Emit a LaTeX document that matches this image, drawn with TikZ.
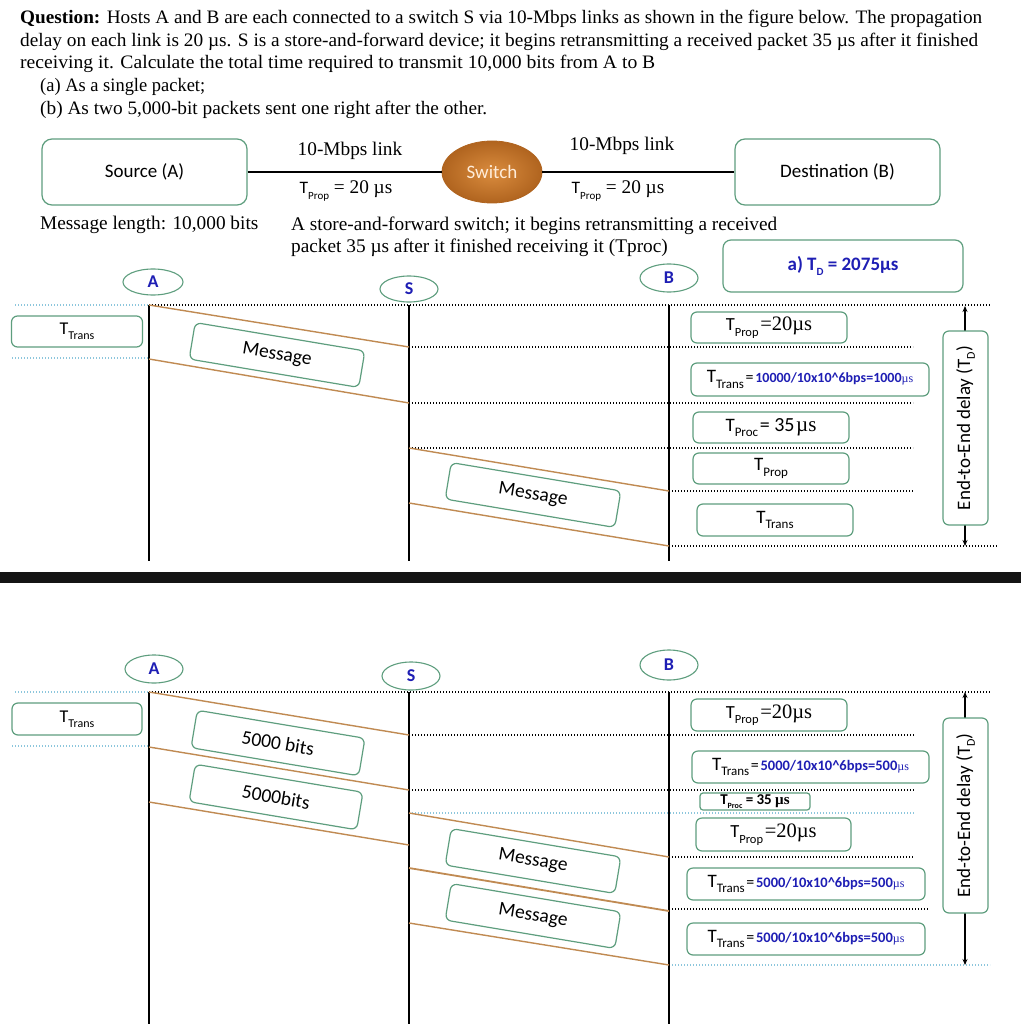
\documentclass[tikz,border=0pt]{standalone}
\usepackage{fontspec}
\setmainfont{Liberation Serif}
\setsansfont{Carlito}
\usepackage{graphicx}
\usetikzlibrary{shapes.geometric,arrows.meta}
\definecolor{gb}{HTML}{5E9E7E}
\definecolor{og}{HTML}{C08A52}
\definecolor{lb}{HTML}{8CC6DC}
\definecolor{bt}{HTML}{1E1EB4}
\definecolor{swin}{HTML}{DA8C3E}
\definecolor{swout}{HTML}{B0641F}
\newcommand\Tx[3]{{\sffamily\fontsize{#2}{#2}\selectfont T\raisebox{-0.3em}{\fontsize{#3}{#3}\selectfont #1}}}
\newcommand\fs[1]{\fontsize{#1}{#1}\selectfont}
\newcommand\qline[2]{\resizebox{#1pt}{\height}{#2}}
\tikzset{
  gbox/.style={draw=gb, line width=1.2pt, rounded corners=6pt, fill=white, inner sep=0pt},
  ell/.style={ellipse, draw=gb, line width=1.1pt, fill=white, inner sep=0pt, font=\sffamily\bfseries\fs{18}, text=bt},
  tl/.style={line width=1.6pt, black},
  dl/.style={line width=1.4pt, dash pattern=on 1.4pt off 1.6pt},
  ldl/.style={line width=1.4pt, lb, dash pattern=on 1.4pt off 1.6pt},
  ol/.style={og, line width=1.4pt},
  msg/.style={gbox, minimum width=172pt, minimum height=37pt, rotate=-9.5, font=\sffamily\fs{19.5}},
  qt/.style={anchor=base west, inner sep=0pt, font=\fs{19}},
  lab/.style={inner sep=0pt},
  e2e/.style={gbox, rotate=90, minimum width=194pt, minimum height=45pt, font=\sffamily\fs{19}},
  darr/.style={line width=1.4pt, {Stealth[length=6pt,width=5pt]}-{Stealth[length=6pt,width=5pt]}}
}
\begin{document}
\begin{tikzpicture}[x=1pt,y=-1pt]
\useasboundingbox (0,0) rectangle (1021,1024);
\fill[white] (0,0) rectangle (1021,1024);
% question
\node[qt] (q1) at (20,24) {\qline{962}{\textbf{Question:} Hosts A and B are each connected to a switch S via 10-Mbps links as shown in the figure below. The propagation}};
\node[qt] (q2) at (20,47) {\qline{958}{delay on each link is 20 µs. S is a store-and-forward device; it begins retransmitting a received packet 35 µs after it finished}};
\node[qt] (q3) at (20,69) {\qline{635}{receiving it. Calculate the total time required to transmit 10,000 bits from A to B}};
\node[qt] (q4) at (40,92) {\qline{165}{(a) As a single packet;}};
\node[qt] (q5) at (40,115) {\qline{447}{(b) As two 5,000-bit packets sent one right after the other.}};
% network
\node[gbox, rounded corners=10pt, minimum width=205pt, minimum height=66pt, font=\sffamily\fs{19}] (src) at (144.5,172) {Source (A)};
\node[gbox, rounded corners=10pt, minimum width=205pt, minimum height=66pt, font=\sffamily\fs{19}] (dst) at (837.5,172) {Destination (B)};
\node[ellipse, draw=swout, line width=0.8pt, inner color=swin, outer color=swout, minimum width=100pt, minimum height=62pt, inner sep=0pt, text=orange!15!white, font=\sffamily\fs{19}] (sw) at (492,172) {Switch};
\draw[line width=1.5pt] (src.east) -- (sw.west);
\draw[line width=1.5pt] (sw.east) -- (dst.west);
\node[lab, font=\fs{19.3}] (l1) at (350,151) {10-Mbps link};
\node[lab, font=\fs{19.3}] (l2) at (622,146) {10-Mbps link};
\node[lab, font=\fs{19.3}] (p1) at (346,191) {\Tx{Prop}{17.5}{11} = 20 µs};
\node[lab, font=\fs{19.3}] (p2) at (618,191) {\Tx{Prop}{17.5}{11} = 20 µs};
\node[lab, anchor=west, font=\fs{19.3}] (ml) at (40,225) {Message length: 10,000 bits};
\node[lab, anchor=base west, font=\fs{19.3}] (sf1) at (291,230) {A store-and-forward switch; it begins retransmitting a received};
\node[lab, anchor=base west, font=\fs{19.3}] (sf2) at (291,252) {packet 35 µs after it finished receiving it (Tproc)};
\node[gbox, rounded corners=8pt, minimum width=240pt, minimum height=52pt, text=bt, font=\sffamily\bfseries\fs{19}] (ans) at (843,266) {a) T\raisebox{-0.25em}{\fs{11}D} = 2075µs};
% ===== top timeline =====
\node[ell, minimum width=60pt, minimum height=26pt] (eA) at (153,282) {A};
\node[ell, minimum width=58pt, minimum height=26pt] (eS) at (409,289) {S};
\node[ell, minimum width=58pt, minimum height=28pt] (eB) at (669,278) {B};
\draw[ldl] (15,305) -- (149,305);
\draw[dl] (149,305) -- (990,305);
\draw[ldl] (12,358) -- (149,358);
\draw[dl] (409,347) -- (913,347);
\draw[dl] (409,403) -- (913,403);
\draw[dl] (409,448) -- (913,448);
\draw[dl] (669,491) -- (913,491);
\draw[dl] (669,546) -- (998,546);
\coordinate (aT) at (149,305); \coordinate (aB) at (149,561);
\coordinate (sT) at (409,305); \coordinate (sB) at (409,561);
\coordinate (bT) at (669,305); \coordinate (bB) at (669,561);
\draw[tl] (aT) -- (aB);
\draw[tl] (sT) -- (sB);
\draw[tl] (bT) -- (bB);
\draw[ol] (149,305) -- (409,347);
\draw[ol] (149,359) -- (409,403);
\draw[ol] (409,448) -- (669,491);
\draw[ol] (409,503) -- (669,546);
\node[gbox, minimum width=131pt, minimum height=31pt] (tt1) at (77,331.5) {\Tx{Trans}{18}{12}};
\node[msg] (m1) at (277,355) {Message};
\node[msg] (m2) at (533,495) {Message};
\node[gbox, minimum width=156pt, minimum height=31pt] (tp1) at (769,327.5) {\Tx{Prop}{18.5}{12.5}\,{\fs{20.5}=20µs}};
\node[gbox, minimum width=238pt, minimum height=33pt] (ttr1) at (810,379.5) {\Tx{Trans}{19}{13}\,{\sffamily\fs{16}=}\,{\color{bt}\sffamily\bfseries\fs{14}10000/10x10\textasciicircum 6bps=1000}{\color{bt}\fs{12}µs}};
\node[gbox, minimum width=156pt, minimum height=31pt] (tpr1) at (771,427.5) {\Tx{Proc}{19}{13}\,{\sffamily\fs{20}= 35}\,{\fs{21}µs}};
\node[gbox, minimum width=156pt, minimum height=31pt] (tp2) at (771,468.5) {\Tx{Prop}{19}{13}};
\node[gbox, minimum width=156pt, minimum height=32pt] (tt2) at (775,520) {\Tx{Trans}{19}{13}};
\coordinate (e1t) at (965,306); \coordinate (e1b) at (965,546);
\draw[darr] (e1t) -- (e1b);
\node[e2e] (ee1) at (965.5,428) {End-to-End delay (T\raisebox{-0.25em}{\fs{12}D})};
% separator
\fill[black!92] (0,572) rectangle (1021,583);
% ===== bottom timeline =====
\node[ell, minimum width=58pt, minimum height=28pt] (fA) at (154,669) {A};
\node[ell, minimum width=58pt, minimum height=28pt] (fS) at (411,676) {S};
\node[ell, minimum width=58pt, minimum height=30pt] (fB) at (669,665) {B};
\draw[ldl] (15,692) -- (149,692);
\draw[dl] (149,692) -- (990,692);
\draw[ldl] (12,746) -- (149,746);
\draw[dl] (409,735) -- (914,735);
\draw[dl] (409,790) -- (914,790);
\draw[ldl] (409,813) -- (914,813);
\draw[dl] (669,857) -- (914,857);
\draw[dl] (669,909) -- (929,909);
\draw[ldl] (669,965) -- (990,965);
\coordinate (cT) at (149,692); \coordinate (cB) at (149,1024);
\coordinate (dT) at (409,692); \coordinate (dB) at (409,1024);
\coordinate (gT) at (669,692); \coordinate (gB) at (669,1024);
\draw[tl] (cT) -- (cB);
\draw[tl] (dT) -- (dB);
\draw[tl] (gT) -- (gB);
\draw[ol] (149,692) -- (409,735);
\draw[ol] (149,747) -- (409,790);
\draw[ol] (149,802) -- (409,845);
\draw[ol] (409,813) -- (669,857);
\draw[ol, line width=1.8pt] (409,868) -- (669,911);
\draw[ol] (409,923) -- (669,965);
\node[gbox, minimum width=130pt, minimum height=32pt] (tt3) at (77,719) {\Tx{Trans}{18}{12}};
\node[msg, minimum width=170pt, minimum height=38pt] (k1) at (278,743) {5000 bits};
\node[msg, minimum width=170pt, minimum height=38pt] (k2) at (276,797) {5000bits};
\node[msg] (m3) at (533,861) {Message};
\node[msg] (m4) at (533,916) {Message};
\node[gbox, minimum width=156pt, minimum height=32pt] (tp3) at (769,715) {\Tx{Prop}{18.5}{12.5}\,{\fs{20.5}=20µs}};
\node[gbox, minimum width=237pt, minimum height=32pt] (ttr3) at (810.5,767) {\Tx{Trans}{19}{13}\,{\sffamily\fs{16}=}\,{\color{bt}\sffamily\bfseries\fs{14.5}5000/10x10\textasciicircum 6bps=500}{\color{bt}\fs{12}µs}};
\node[gbox, rounded corners=3pt, minimum width=110pt, minimum height=17pt] (tpr3) at (755,801.5) {{\sffamily\bfseries\fs{15}T\raisebox{-0.3em}{\fs{8}Proc} = 35 }{\bfseries\fs{15}µs}};
\node[gbox, minimum width=155pt, minimum height=33pt] (tp4) at (773.5,834.5) {\Tx{Prop}{18.5}{12.5}\,{\fs{20.5}=20µs}};
\node[gbox, minimum width=238pt, minimum height=32pt] (ttr4) at (806,884) {\Tx{Trans}{19}{13}\,{\sffamily\fs{16}=}\,{\color{bt}\sffamily\bfseries\fs{14.5}5000/10x10\textasciicircum 6bps=500}{\color{bt}\fs{12}µs}};
\node[gbox, minimum width=238pt, minimum height=32pt] (ttr5) at (806,939) {\Tx{Trans}{19}{13}\,{\sffamily\fs{16}=}\,{\color{bt}\sffamily\bfseries\fs{14.5}5000/10x10\textasciicircum 6bps=500}{\color{bt}\fs{12}µs}};
\coordinate (e2t) at (965,692); \coordinate (e2b) at (965,965);
\draw[darr] (e2t) -- (e2b);
\node[e2e, minimum width=195pt] (ee2) at (965.5,815.5) {End-to-End delay (T\raisebox{-0.25em}{\fs{12}D})};
\end{tikzpicture}
\end{document}
